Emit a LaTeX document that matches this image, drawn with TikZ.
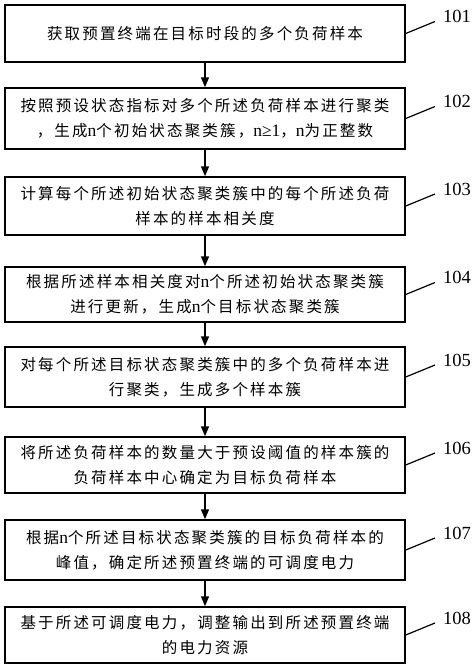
\documentclass[tikz,border=0pt]{standalone}
\usepackage{fontspec}
\setmainfont{Liberation Serif}
\newfontfamily\cjk[LetterSpace=14]{Noto Sans CJK SC}
\usetikzlibrary{arrows.meta}
\newcommand{\C}[1]{{\cjk #1}}
\newcommand{\N}[1]{{\fontsize{17.5}{25}\selectfont #1}}
\begin{document}
\begin{tikzpicture}[x=1pt,y=-1pt,
  stepbox/.style={draw=black,line width=1.5pt,minimum width=400pt,inner sep=0pt,
    align=center,font=\fontsize{15.5}{25}\selectfont},
  flow/.style={line width=1.5pt,-{Triangle[length=10pt,width=8pt]}},
  leader/.style={line width=1.2pt},
  num/.style={font=\fontsize{18.5}{20}\selectfont,anchor=west,inner sep=0pt}]
\useasboundingbox[fill=white] (0,0) rectangle (474,672);
\node[stepbox,minimum height=57pt] (b1) at (205,33.5) {\C{获取预置终端在目标时段的多个负荷样本}};
\node[stepbox,minimum height=61pt] (b2) at (205,118.5) {\C{按照预设状态指标对多个所述负荷样本进行聚类}\\\C{，生成}\N{n}\C{个初始状态聚类簇，}\N{n≥1}\C{，}\N{n}\C{为正整数}};
\node[stepbox,minimum height=58pt] (b3) at (205,206) {\C{计算每个所述初始状态聚类簇中的每个所述负荷}\\\C{样本的样本相关度}};
\node[stepbox,minimum height=55pt] (b4) at (205,294.5) {\C{根据所述样本相关度对}\N{n}\C{个所述初始状态聚类簇}\\\C{进行更新，生成}\N{n}\C{个目标状态聚类簇}};
\node[stepbox,minimum height=60pt] (b5) at (205,377) {\C{对每个所述目标状态聚类簇中的多个负荷样本进}\\\C{行聚类，生成多个样本簇}};
\node[stepbox,minimum height=56pt] (b6) at (205,465) {\C{将所述负荷样本的数量大于预设阈值的样本簇的}\\\C{负荷样本中心确定为目标负荷样本}};
\node[stepbox,minimum height=60pt] (b7) at (205,550) {\C{根据}\N{n}\C{个所述目标状态聚类簇的目标负荷样本的}\\\C{峰值，确定所述预置终端的可调度电力}};
\node[stepbox,minimum height=56pt] (b8) at (205,635) {\C{基于所述可调度电力，调整输出到所述预置终端}\\\C{的电力资源}};
\foreach \a/\b in {b1/b2,b2/b3,b3/b4,b4/b5,b5/b6,b6/b7,b7/b8}
  \draw[flow] (\a.south) -- (\b.north);
\foreach \i/\m in {1/33.5,2/118.5,3/206,4/294.5,5/377,6/465,7/550,8/635}{
  \coordinate (c\i) at (435,\m-12);
  \node[num] (l\i) at (443,\m-17) {10\i};
  \draw[leader] (b\i.east) -- (c\i);
}
\end{tikzpicture}
\end{document}
